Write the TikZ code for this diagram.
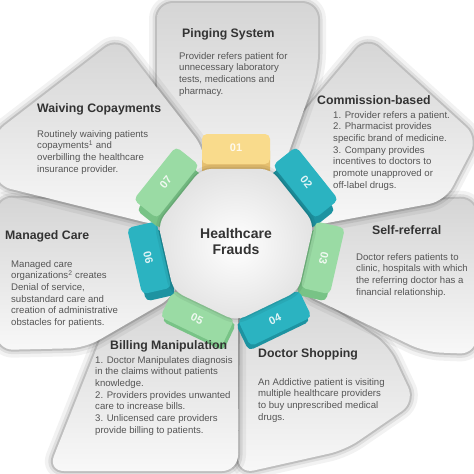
\documentclass[tikz,border=0pt]{standalone}
\usepackage{fontspec}
\setmainfont{Liberation Sans}
\usetikzlibrary{calc}
\definecolor{ttl}{HTML}{333333}
\definecolor{bdy}{HTML}{555555}
\definecolor{ylw}{HTML}{F9DB8C}
\definecolor{ylwd}{HTML}{E6C070}
\definecolor{tea}{HTML}{2BB3C1}
\definecolor{tead}{HTML}{1D93A1}
\definecolor{grn}{HTML}{9ADBA4}
\definecolor{grnd}{HTML}{78C386}
\definecolor{ptop}{HTML}{D5D5D5}
\definecolor{pbot}{HTML}{F8F8F8}
\begin{document}
\begin{tikzpicture}[x=1pt,y=-1pt,
  petal/.style={rounded corners=16pt, top color=ptop, bottom color=pbot,
    preaction={draw=black, draw opacity=0.05, line width=16pt, line join=round},
    preaction={draw=black, draw opacity=0.08, line width=9pt, line join=round},
    preaction={draw=black, draw opacity=0.14, line width=4pt, line join=round}},
  hepta/.style={rounded corners=10pt, inner color=white, outer color=gray!22,
    preaction={draw=black, draw opacity=0.06, line width=8pt, line join=round},
    preaction={draw=black, draw opacity=0.08, line width=3pt, line join=round}},
  tabbox/.style={rectangle, rounded corners=5pt, minimum width=68pt, minimum height=30pt, inner sep=0pt},
  tablab/.style={text=white, text opacity=0.85, inner sep=0pt, font=\bfseries\fontsize{11}{11}\selectfont},
  ttlsty/.style={anchor=north west, inner sep=0pt, text=ttl, font=\bfseries\fontsize{12.3}{14}\selectfont},
  bodysty/.style={anchor=north west, inner sep=0pt, align=left, text=bdy, font=\fontsize{9.6}{11.7}\selectfont}
]
\useasboundingbox (0,0) rectangle (474,474);
\fill[white] (0,0) rectangle (474,474);
\coordinate (C) at (236,241);

% petals, back to front
\shade[petal] (240,300) -- (300,287) -- (388,345) -- (415,402) -- (345,450) -- (238,474) -- cycle;
\shade[petal] (300,245) -- (320,205) -- (476,198) -- (476,354) -- (425,352) -- (300,292) -- cycle;
\shade[petal] (280,140) -- (367,37) -- (478,138) -- (445,201) -- (300,228) -- cycle;
\shade[petal] (200,205) -- (157,130) -- (157,3) -- (318,3) -- (318,70) -- (270,205) -- cycle;
\shade[petal] (190,292) -- (238,300) -- (238,471) -- (48,471) -- (110,315) -- cycle;
\shade[petal] (185,262) -- (150,203) -- (-3,197) -- (-3,350) -- (85,348) -- (175,296) -- cycle;
\shade[petal] (205,150) -- (118,38) -- (-8,135) -- (-5,185) -- (160,226) -- (205,205) -- cycle;

% tabs
\foreach \k/\cl/\cd/\fl in {1/ylw/ylwd/0,2/tea/tead/0,3/grn/grnd/0,4/tea/tead/180,5/grn/grnd/180,6/tea/tead/180,7/grn/grnd/0}{
  \pgfmathsetmacro\ph{90-(\k-1)*360/7}
  \pgfmathsetmacro\mph{-\ph}
  \pgfmathsetmacro\rt{\ph-90}
  \pgfmathsetmacro\tr{\ph-90+\fl}
  \node[tabbox, fill=\cd, rotate=\rt] (tab\k) at ($(C)+(\mph:85)+(0,5)$) {};
  \node[tabbox, fill=\cl, rotate=\rt] (face\k) at ($(C)+(\mph:89)+(0,-3)$) {};
  \node[tablab, rotate=\tr] (lab\k) at ($(C)+(\mph:90)+(0,-3)$) {0\k};
}

% central heptagon
\shade[hepta] ($(C)+(-64.29:80)$) -- ($(C)+(-12.86:80)$) -- ($(C)+(38.57:80)$) -- ($(C)+(90:80)$) -- ($(C)+(141.43:80)$) -- ($(C)+(192.86:80)$) -- ($(C)+(244.29:80)$) -- cycle;
\node[text=ttl, align=center, inner sep=0pt, font=\bfseries\fontsize{14}{16}\selectfont] (ctr) at (C) {Healthcare\\Frauds};

% texts
\node[ttlsty] (t1) at (182,28) {Pinging System};
\node[bodysty] (b1) at (179,52) {Provider refers patient for\\unnecessary laboratory\\tests, medications and\\pharmacy.};

\node[ttlsty] (t2) at (317,95) {Commission-based};
\node[bodysty] (b2) at (333,111) {1. Provider refers a patient.\\2. Pharmacist provides\\specific brand of medicine.\\3. Company provides\\incentives to doctors to\\promote unapproved or\\off-label drugs.};

\node[ttlsty] (t3) at (372,225) {Self-referral};
\node[bodysty] (b3) at (356,253) {Doctor refers patients to\\clinic, hospitals with which\\the referring doctor has a\\financial relationship.};

\node[ttlsty] (t4) at (258,348) {Doctor Shopping};
\node[bodysty] (b4) at (258,378) {An Addictive patient is visiting\\multiple healthcare providers\\to buy unprescribed medical\\drugs.};

\node[ttlsty] (t5) at (110,340) {Billing Manipulation};
\node[bodysty] (b5) at (95,356) {1. Doctor Manipulates diagnosis\\in the claims without patients\\knowledge.\\2. Providers provides unwanted\\care to increase bills.\\3. Unlicensed care providers\\provide billing to patients.};

\node[ttlsty] (t6) at (5,230) {Managed Care};
\node[bodysty] (b6) at (11,260) {Managed care\\organizations\textsuperscript{2} creates\\Denial of service,\\substandard care and\\creation of administrative\\obstacles for patients.};

\node[ttlsty] (t7) at (37,103) {Waiving Copayments};
\node[bodysty] (b7) at (37,130) {Routinely waiving patients\\copayments\textsuperscript{1} and\\overbilling the healthcare\\insurance provider.};
\end{tikzpicture}
\end{document}
